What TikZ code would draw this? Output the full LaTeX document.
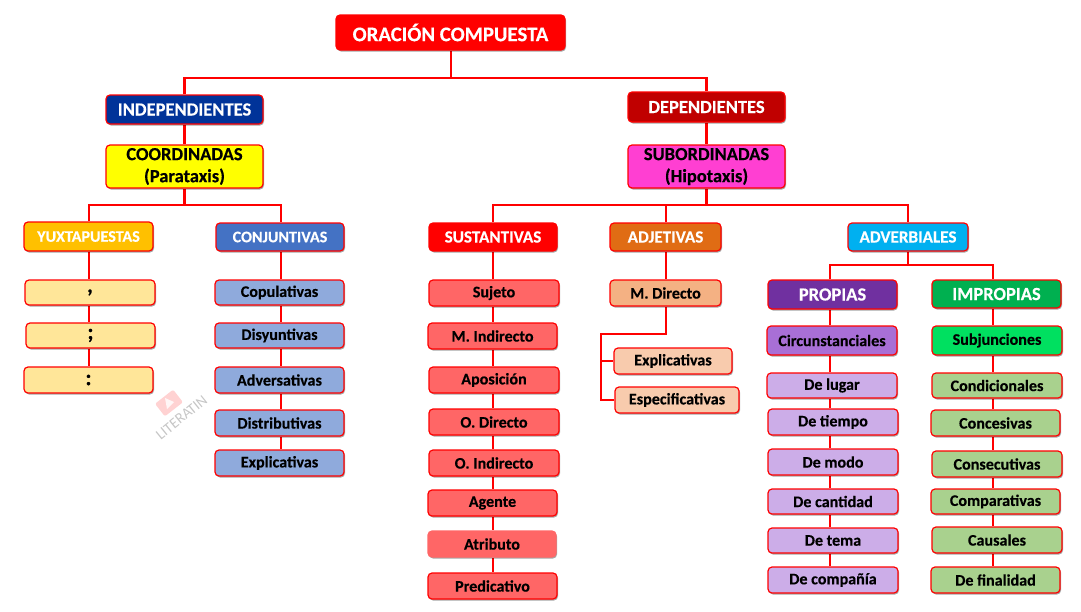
\documentclass[tikz,border=0pt]{standalone}
\usepackage{fontspec}
\setmainfont{Carlito}[BoldFeatures={FakeBold=0.3}]
\usetikzlibrary{shadows,backgrounds}
\definecolor{cyel}{HTML}{FFFF00}
\definecolor{cnavy}{HTML}{003399}
\definecolor{cdark}{HTML}{C00000}
\definecolor{cmag}{HTML}{FF3FD2}
\definecolor{cyux}{HTML}{FFC000}
\definecolor{cconj}{HTML}{4472C4}
\definecolor{cyuxl}{HTML}{FFE699}
\definecolor{cconjl}{HTML}{8FAADC}
\definecolor{cadj}{HTML}{E06C14}
\definecolor{cadjl}{HTML}{F4B183}
\definecolor{cadjm}{HTML}{F8CBAD}
\definecolor{cadv}{HTML}{00B0F0}
\definecolor{csus}{HTML}{FF6666}
\definecolor{cpur}{HTML}{7030A0}
\definecolor{cpurm}{HTML}{A86FD6}
\definecolor{cpurl}{HTML}{CCADE8}
\definecolor{cgre}{HTML}{00B050}
\definecolor{cgrem}{HTML}{00E060}
\definecolor{cgrel}{HTML}{A9D18E}
\tikzset{
 x=1pt,y=-1pt,
 bxs/.style={draw=red,line width=1.2pt,rounded corners=4pt,inner sep=0pt,align=center,font=\bfseries\fontsize{16.1}{18}\selectfont,text=black,
  drop shadow={shadow xshift=1pt,shadow yshift=-1.5pt,opacity=.35,fill=black}},
 big/.style={font=\bfseries\fontsize{18.5}{22}\selectfont},
 mid/.style={font=\bfseries\fontsize{17.1}{20}\selectfont},
 pun/.style={font=\bfseries\fontsize{22}{24}\selectfont},
 wht/.style={text=white},
 lnk/.style={draw=red,line width=2.8pt,line join=miter},
}
\newcommand\bx[7]{\node[bxs,#6,minimum width={(#4-#2)*1pt},minimum height={(#5-#3)*1pt}] (#1) at ({(#2+#4)/2},{(#3+#5)/2}) {#7};}
\begin{document}
\begin{tikzpicture}
\useasboundingbox (0,0) rectangle (1081,611);
\bx{title}{336}{15}{565}{50}{fill=red,wht,font=\bfseries\fontsize{20.8}{24}\selectfont}{ORACIÓN COMPUESTA}
\bx{indep}{106}{95}{263}{124}{fill=cnavy,wht,big}{INDEPENDIENTES}
\bx{dep}{628}{92}{785}{122}{fill=cdark,wht,big}{DEPENDIENTES}
\bx{coord}{106}{145}{263}{188}{fill=cyel,big}{COORDINADAS\\(Parataxis)}
\bx{subor}{628}{145}{785}{188}{fill=cmag,big}{SUBORDINADAS\\(Hipotaxis)}
\bx{yux}{24}{222}{153}{251}{fill=cyux,wht}{YUXTAPUESTAS}
\bx{conj}{216}{223}{344}{251}{fill=cconj,wht}{CONJUNTIVAS}
\bx{coma}{25}{280}{155}{305}{fill=cyuxl,pun}{,}
\bx{pcoma}{26}{323}{155}{348}{fill=cyuxl,pun}{;}
\bx{dosp}{24}{367}{153}{393}{fill=cyuxl,pun}{:}
\bx{copu}{215}{280}{344}{305}{fill=cconjl}{Copulativas}
\bx{disy}{215}{323}{344}{348}{fill=cconjl}{Disyuntivas}
\bx{adve}{215}{367}{344}{393}{fill=cconjl}{Adversativas}
\bx{dist}{215}{410}{344}{436}{fill=cconjl}{Distributivas}
\bx{expl}{215}{450}{344}{476}{fill=cconjl}{Explicativas}
\bx{sust}{429}{223}{557}{251}{fill=red,wht,mid}{SUSTANTIVAS}
\bx{adj}{610}{223}{721}{251}{fill=cadj,wht,mid}{ADJETIVAS}
\bx{adv}{848}{223}{968}{251}{fill=cadv,wht,mid}{ADVERBIALES}
\bx{suj}{429}{280}{559}{306}{fill=csus}{Sujeto}
\bx{mind}{428}{323}{557}{349}{fill=csus}{M. Indirecto}
\bx{apo}{429}{367}{559}{393}{fill=csus}{Aposición}
\bx{odir}{429}{409}{559}{435}{fill=csus}{O. Directo}
\bx{oind}{429}{450}{559}{476}{fill=csus}{O. Indirecto}
\bx{age}{428}{490}{557}{516}{fill=csus}{Agente}
\bx{atr}{428}{531}{556}{557}{fill=csus,draw=csus}{Atributo}
\bx{pred}{428}{573}{557}{599}{fill=csus}{Predicativo}
\bx{mdir}{610}{280}{721}{306}{fill=cadjl}{M. Directo}
\bx{aexp}{614}{348}{732}{374}{fill=cadjm}{Explicativas}
\bx{aesp}{615}{387}{739}{413}{fill=cadjm}{Especificativas}
\bx{prop}{768}{280}{897}{309}{fill=cpur,wht,big}{PROPIAS}
\bx{impr}{932}{280}{1061}{308}{fill=cgre,wht,big}{IMPROPIAS}
\bx{circ}{767}{326}{897}{355}{fill=cpurm}{Circunstanciales}
\bx{subj}{932}{326}{1062}{355}{fill=cgrem}{Subjunciones}
\bx{lug}{767}{373}{897}{398}{fill=cpurl}{De lugar}
\bx{tie}{768}{409}{898}{435}{fill=cpurl}{De tiempo}
\bx{mod}{768}{449}{898}{475}{fill=cpurl}{De modo}
\bx{can}{768}{489}{898}{514}{fill=cpurl}{De cantidad}
\bx{tem}{768}{528}{898}{553}{fill=cpurl}{De tema}
\bx{com}{768}{567}{898}{593}{fill=cpurl}{De compañía}
\bx{cond}{932}{373}{1062}{398}{fill=cgrel}{Condicionales}
\bx{conc}{931}{410}{1060}{436}{fill=cgrel}{Concesivas}
\bx{cons}{932}{451}{1062}{477}{fill=cgrel}{Consecutivas}
\bx{comp}{931}{489}{1060}{514}{fill=cgrel}{Comparativas}
\bx{caus}{932}{527}{1062}{553}{fill=cgrel}{Causales}
\bx{fina}{931}{567}{1060}{593}{fill=cgrel}{De finalidad}
% watermark
\node[fill=red!70!white,opacity=.25,rounded corners=2pt,rotate=38,minimum width=23pt,minimum height=16pt,inner sep=0pt] (wmicon) at (169,403) {};
\fill[white,opacity=.8] (165,398) -- (174,402) -- (167,409) -- cycle;
\node[text=gray!45,rotate=39,inner sep=0pt,font=\fontsize{15}{17}\selectfont] (wmtext) at (181.5,417.5) {LITERATIN};
\coordinate (j0) at (451,78);
\coordinate (j1) at (185,205);
\coordinate (j2) at (706,205);
\coordinate (j3) at (908,265);
\coordinate (xyux) at (89,0);
\coordinate (xconj) at (281,0);
\coordinate (xsus) at (493,0);
\coordinate (xadj) at (666,0);
\coordinate (xpro) at (830,0);
\coordinate (ximp) at (993,0);
\coordinate (k1) at (601,334);
\begin{pgfonlayer}{background}
\draw[lnk] (title.south -| j0) -- (j0);
\draw[lnk] (indep.north) |- (j0) -| (dep.north);
\draw[lnk] (indep) -- (coord);
\draw[lnk] (dep) -- (subor);
\draw[lnk] (coord.south) -- (coord.south |- j1);
\draw[lnk] (yux.north -| xyux) |- (j1) -| (conj.north -| xconj);
\draw[lnk] (subor.south) -- (subor.south |- j2);
\draw[lnk] (sust.north -| xsus) |- (j2) -- (j2 -| adv.north) -- (adv.north);
\draw[lnk] (adj.north -| xadj) -- (j2 -| xadj);
\draw[lnk] (adv.south -| j3) -- (j3);
\draw[lnk] (prop.north -| xpro) |- (j3) -| (impr.north -| ximp);
\foreach \a/\b in {yux/coma,coma/pcoma,pcoma/dosp}
 \draw[lnk] (\a.south -| xyux) -- (\b.north -| xyux);
\foreach \a/\b in {conj/copu,copu/disy,disy/adve,adve/dist,dist/expl}
 \draw[lnk] (\a.south -| xconj) -- (\b.north -| xconj);
\foreach \a/\b in {sust/suj,suj/mind,mind/apo,apo/odir,odir/oind,oind/age,age/atr,atr/pred}
 \draw[lnk] (\a.south -| xsus) -- (\b.north -| xsus);
\draw[lnk] (adj.south -| xadj) -- (mdir.north -| xadj);
\draw[lnk] (mdir.south -| xadj) |- (k1) |- (aesp.west);
\draw[lnk] (k1 |- aexp.west) -- (aexp.west);
\foreach \a/\b in {prop/circ,circ/lug,lug/tie,tie/mod,mod/can,can/tem,tem/com}
 \draw[lnk] (\a.south -| xpro) -- (\b.north -| xpro);
\foreach \a/\b in {impr/subj,subj/cond,cond/conc,conc/cons,cons/comp,comp/caus,caus/fina}
 \draw[lnk] (\a.south -| ximp) -- (\b.north -| ximp);
\end{pgfonlayer}
\end{tikzpicture}
\end{document}
